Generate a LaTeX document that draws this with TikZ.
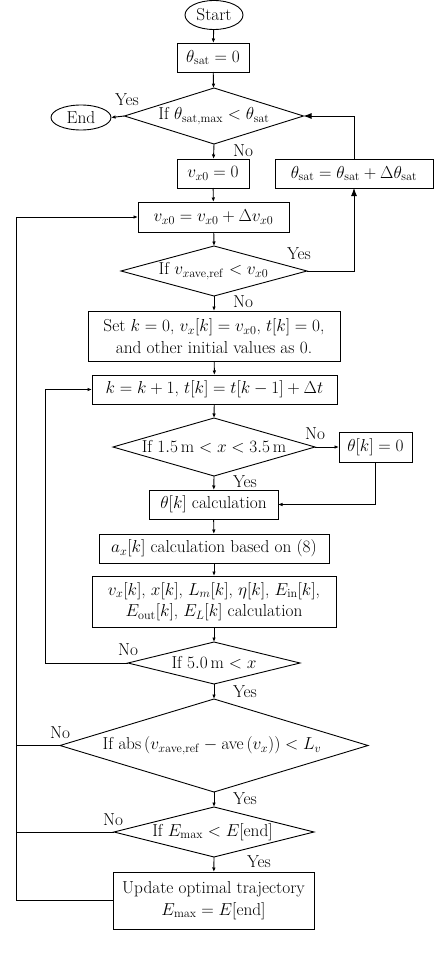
\RequirePackage{fix-cm}
\documentclass[tikz,border=0pt]{standalone}
\usepackage{amsmath}
\usetikzlibrary{shapes.geometric,arrows.meta}
\tikzset{
  every node/.style={font=\fontsize{17.3}{21.5}\selectfont, inner sep=0pt, outer sep=0pt},
  box/.style={draw, rectangle, align=center},
  term/.style={draw, ellipse},
  dia/.style={draw, diamond},
  lbl/.style={},
  arr/.style={-{Latex[length=4.5pt,width=3.6pt]}},
  bigarr/.style={-{Latex[length=8pt,width=6pt]}},
  ln/.style={line width=0.9pt},
}
\begin{document}
\begin{tikzpicture}[x=1pt,y=-1pt,ln]
\useasboundingbox (0,0) rectangle (434,966);
% terminals
\node[term, minimum width=58pt, minimum height=29pt] (start) at (214,15) {Start};
\node[term, minimum width=60pt, minimum height=25pt] (end) at (81,117.5) {End};
% boxes
\node[box, minimum width=72pt, minimum height=29pt] (b1) at (213,57.5) {$\theta_{\mathrm{sat}}=0$};
\node[box, minimum width=72pt, minimum height=29pt] (v0) at (213,173.5) {$v_{x0}=0$};
\node[box, minimum width=158pt, minimum height=29pt] (bt) at (354,173.5) {$\theta_{\mathrm{sat}}=\theta_{\mathrm{sat}}+\Delta\theta_{\mathrm{sat}}$};
\node[box, minimum width=151pt, minimum height=30pt] (b3) at (213.5,217) {$v_{x0}=v_{x0}+\Delta v_{x0}$};
\node[box, minimum width=252pt, minimum height=50pt] (set) at (214,336) {Set $k=0$, $v_x[k]=v_{x0}$, $t[k]=0$,\\and other initial values as 0.};
\node[box, minimum width=245pt, minimum height=29pt] (kb) at (214.5,389.5) {$k=k+1$, $t[k]=t[k-1]+\Delta t$};
\node[box, minimum width=73pt, minimum height=30pt] (th0) at (375.5,447) {$\theta[k]=0$};
\node[box, minimum width=129pt, minimum height=29pt] (thc) at (213.5,504.5) {$\theta[k]$ calculation};
\node[box, minimum width=230pt, minimum height=29pt] (ax) at (214,548.5) {$a_x[k]$ calculation based on (8)};
\node[box, minimum width=244pt, minimum height=51pt] (vx) at (214,601.5) {$v_x[k]$, $x[k]$, $L_m[k]$, $\eta[k]$, $E_{\mathrm{in}}[k]$,\\$E_{\mathrm{out}}[k]$, $E_L[k]$ calculation};
\node[box, minimum width=201pt, minimum height=57pt] (upd) at (213.5,900.5) {Update optimal trajectory\\$E_{\max}=E[\mathrm{end}]$};
% diamonds
\node[dia, minimum width=179pt, minimum height=56pt] (d1) at (214,116) {};
\node (d1t) at (214,116) {If $\theta_{\mathrm{sat,max}}<\theta_{\mathrm{sat}}$};
\node[dia, minimum width=186pt, minimum height=50pt] (d2) at (214,271) {};
\node (d2t) at (213.5,271) {If $v_{x\mathrm{ave,ref}}<v_{x0}$};
\node[dia, minimum width=202pt, minimum height=58pt] (d3) at (214,447) {};
\node (d3t) at (214,447) {If $1.5\,\mathrm{m}<x<3.5\,\mathrm{m}$};
\node[dia, minimum width=172pt, minimum height=42pt] (d4) at (214,663) {};
\node (d4t) at (214,663) {If $5.0\,\mathrm{m}<x$};
\node[dia, minimum width=308pt, minimum height=93pt] (d5) at (214,745.5) {};
\node (d5t) at (212,745.5) {If $\mathrm{abs}\left(v_{x\mathrm{ave,ref}}-\mathrm{ave}\left(v_x\right)\right)<L_v$};
\node[dia, minimum width=200pt, minimum height=50pt] (d6) at (214,832) {};
\node (d6t) at (212.5,832) {If $E_{\max}<E[\mathrm{end}]$};
% labels
\node[lbl] (l1) at (127,100) {Yes};
\node[lbl] (l2) at (243,151) {No};
\node[lbl] (l3) at (299,254) {Yes};
\node[lbl] (l4) at (243,302) {No};
\node[lbl] (l5) at (315,434) {No};
\node[lbl] (l6) at (245,482) {Yes};
\node[lbl] (l7) at (128,650) {No};
\node[lbl] (l8) at (245,692) {Yes};
\node[lbl] (l9) at (60,733) {No};
\node[lbl] (l10) at (245,799) {Yes};
\node[lbl] (l11) at (113,820) {No};
\node[lbl] (l12) at (259,862) {Yes};
% coordinates
\coordinate (li) at (45,663);
\coordinate (lo) at (16,900.5);
\coordinate (lo5) at (16,745.5);
\coordinate (lo6) at (16,832);
% connectors
\draw[arr] (start) -- (b1);
\draw[arr] (b1) -- (d1);
\draw[arr] (d1.west) -- (end.east);
\draw[arr] (d1.south) -- (v0);
\draw[arr] (v0) -- (b3);
\draw[arr] (b3) -- (d2.north);
\draw[bigarr] (d2.east) -| (bt.south);
\draw[bigarr] (bt.north) |- (d1.east);
\draw[arr] (d2.south) -- (set);
\draw[arr] (set) -- (kb);
\draw[arr] (kb) -- (d3.north);
\draw[arr] (d3.east) -- (th0.west);
\draw[arr] (d3.south) -- (thc);
\draw[arr] (th0.south) |- (thc.east);
\draw[arr] (thc) -- (ax);
\draw[arr] (ax) -- (vx);
\draw[arr] (vx) -- (d4.north);
\draw[arr] (d4.west) -- (li) |- (kb.west);
\draw[arr] (d4.south) -- (d5.north);
\draw[arr] (d5.south) -- (d6.north);
\draw[arr] (d6.south) -- (upd);
\draw[arr] (upd.west) -- (lo) |- (b3.west);
\draw (d5.west) -- (lo5);
\draw (d6.west) -- (lo6);
\end{tikzpicture}
\end{document}
